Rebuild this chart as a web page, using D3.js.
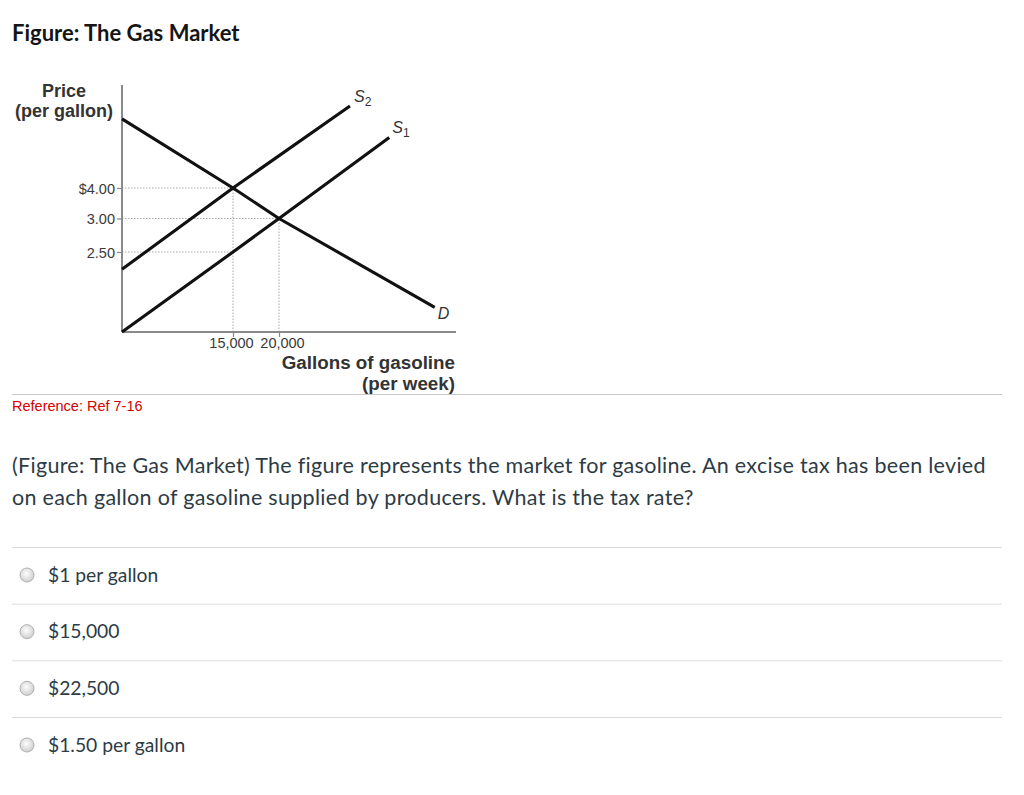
<!DOCTYPE html>
<meta charset="utf-8">
<style type="text/css">
    body{
      margin: 0;
      background: #fff;
    }
    svg{
      display: block;
    }
    .page-text{
      font-family: Lato, "Open Sans", sans-serif;
      fill: #2d3b45;
    }
    .chart-text{
      font-family: "Liberation Sans", Arial, sans-serif;
    }
</style>
<body>
<script src="https://cdnjs.cloudflare.com/ajax/libs/d3/7.8.5/d3.min.js"></script>
<script>

//curves of the schematic, quantity in gallons per week and price in dollars
var demand  = [{q: 0, p: 6.35}, {q: 15000, p: 4}, {q: 20000, p: 3}, {q: 37600, p: 0.77}];
var supply1 = [{q: 0, p: 0}, {q: 15000, p: 2.5}, {q: 20000, p: 3}, {q: 32460, p: 5.72}];
var supply2 = [{q: 0, p: 1.96}, {q: 15000, p: 4}, {q: 28020, p: 6.79}];

//dotted guides from the axes
var guides = [{q: 15000, p: 4}, {q: 20000, p: 3}, {q: 15000, p: 2.5}];

//tick values and labels
var priceTicks  = [2.5, 3, 4];
var priceLabels = ["2.50", "3.00", "$4.00"];
var qtyTicks    = [15000, 20000];
var qtyLabels   = ["15,000", "20,000"];

//page texts
var title     = "Figure: The Gas Market";
var reference = "Reference: Ref 7-16";
var question  = ["(Figure: The Gas Market) The figure represents the market for gasoline. An excise tax has been levied",
                 "on each gallon of gasoline supplied by producers. What is the tax rate?"];
var answers   = ["$1 per gallon", "$15,000", "$22,500", "$1.50 per gallon"];

var W = 1024, H = 795;

var svg = d3.select("body")
  .append("svg")
  .attr("width", W)
  .attr("height", H);

//radio gradient
var grad = svg.append("defs").append("radialGradient")
  .attr("id", "radio")
  .attr("cx", "45%").attr("cy", "40%").attr("r", "60%");
grad.append("stop").attr("offset", "0%").attr("stop-color", "#fdfdfd");
grad.append("stop").attr("offset", "100%").attr("stop-color", "#cfcfcf");

//title
svg.append("text")
  .attr("class", "page-text")
  .attr("x", 12).attr("y", 41)
  .style("font-size", "22px")
  .style("font-weight", "bold")
  .style("fill", "#151515")
  .text(title);

//the chart, schematic so the scales are piecewise
var chartW = 334, chartH = 247;
var chart = svg.append("g")
  .attr("transform", "translate(122,85)");

var x = d3.scaleLinear()
  .domain([0, 15000, 20000, 40000])
  .range([0, 111, 157, chartW]);

var y = d3.scaleLinear()
  .domain([0, 2.5, 3, 4, 7.5])
  .range([chartH, 167, 133.5, 103, 0]);

var line = d3.line()
  .x(function(d){ return x(d.q); })
  .y(function(d){ return y(d.p); });

//dotted guides
chart.selectAll(".hguide")
  .data(guides)
  .enter().append("line")
  .attr("x1", 0).attr("x2", function(d){ return x(d.q); })
  .attr("y1", function(d){ return y(d.p); }).attr("y2", function(d){ return y(d.p); })
  .attr("stroke", "#aaa").attr("stroke-width", 1).attr("stroke-dasharray", "1.5,1.5");

chart.selectAll(".vguide")
  .data(guides.slice(0, 2))
  .enter().append("line")
  .attr("x1", function(d){ return x(d.q); }).attr("x2", function(d){ return x(d.q); })
  .attr("y1", chartH).attr("y2", function(d){ return y(d.p); })
  .attr("stroke", "#aaa").attr("stroke-width", 1).attr("stroke-dasharray", "1.5,1.5");

//axes
var yAxis = d3.axisLeft(y)
  .tickValues(priceTicks)
  .tickFormat(function(d, i){ return priceLabels[i]; })
  .tickSize(5)
  .tickPadding(2);

var xAxis = d3.axisBottom(x)
  .tickValues(qtyTicks)
  .tickFormat(function(d, i){ return qtyLabels[i]; })
  .tickSize(5)
  .tickPadding(1);

var gy = chart.append("g").call(yAxis);
var gx = chart.append("g").attr("transform", "translate(0," + chartH + ")").call(xAxis);

[gx, gy].forEach(function(g){
  g.select(".domain").remove();
  g.selectAll(".tick line").attr("stroke", "#888").attr("stroke-width", 1.2);
  g.selectAll(".tick text")
    .attr("class", "chart-text")
    .style("font-size", "14.5px")
    .style("fill", "#3a3a3a");
});
gy.selectAll(".tick text").attr("dy", "0.36em");
gx.selectAll(".tick text").attr("dx", function(d, i){ return i === 0 ? -2 : 3; });

chart.append("line")
  .attr("x1", 0).attr("x2", 0).attr("y1", 0).attr("y2", chartH)
  .attr("stroke", "#8a8a8a").attr("stroke-width", 2);
chart.append("line")
  .attr("x1", 0).attr("x2", chartW).attr("y1", chartH).attr("y2", chartH)
  .attr("stroke", "#8a8a8a").attr("stroke-width", 2);

//curves
chart.selectAll(".curve")
  .data([demand, supply1, supply2])
  .enter().append("path")
  .attr("d", line)
  .attr("fill", "none")
  .attr("stroke", "#111")
  .attr("stroke-width", 3.1)
  .attr("stroke-linejoin", "round");

//curve labels
function curveLabel(d, name, sub, dx, dy){
  var end = d[d.length - 1];
  var t = chart.append("text")
    .attr("class", "chart-text")
    .attr("x", x(end.q) + dx)
    .attr("y", y(end.p) + dy)
    .style("font-size", "16px")
    .style("font-style", "italic")
    .style("fill", "#333")
    .text(name);
  if (sub) {
    t.append("tspan")
      .attr("dy", 4)
      .style("font-size", "12px")
      .style("font-style", "normal")
      .text(sub);
  }
}
curveLabel(supply2, "S", "2", 4, -4);
curveLabel(supply1, "S", "1", 3, -4);
curveLabel(demand, "D", null, 3, 12);

//axis titles
var yt = chart.append("text")
  .attr("class", "chart-text")
  .attr("text-anchor", "middle")
  .style("font-size", "18px")
  .style("font-weight", "bold")
  .style("fill", "#333");
yt.append("tspan").attr("x", -58).attr("y", 12).text("Price");
yt.append("tspan").attr("x", -58).attr("y", 32).text("(per gallon)");

var xt = chart.append("text")
  .attr("class", "chart-text")
  .attr("text-anchor", "end")
  .style("font-size", "18.8px")
  .style("font-weight", "bold")
  .style("fill", "#333");
xt.append("tspan").attr("x", chartW - 1).attr("y", chartH + 37).text("Gallons of gasoline");
xt.append("tspan").attr("x", chartW - 1).attr("y", chartH + 58).text("(per week)");

//rule under the figure
svg.append("line")
  .attr("x1", 12).attr("x2", 1002).attr("y1", 394.5).attr("y2", 394.5)
  .attr("stroke", "#c8c8c8").attr("stroke-width", 1);

svg.append("text")
  .attr("class", "chart-text")
  .attr("x", 12).attr("y", 411)
  .style("font-size", "14.5px")
  .style("fill", "#d40000")
  .text(reference);

//question
svg.append("g").selectAll("text")
  .data(question)
  .enter().append("text")
  .attr("class", "page-text")
  .attr("x", 12)
  .attr("y", function(d, i){ return 473 + i * 32; })
  .style("font-size", "21.5px")
  .style("letter-spacing", "0.3px")
  .text(function(d){ return d; });

//answer options
var rowY = d3.scaleLinear().domain([0, 3]).range([547, 717]);

var rows = svg.append("g").selectAll("g")
  .data(answers)
  .enter().append("g")
  .attr("transform", function(d, i){ return "translate(0," + rowY(i) + ")"; });

rows.append("line")
  .attr("x1", 12).attr("x2", 1002).attr("y1", 0.5).attr("y2", 0.5)
  .attr("stroke", "#dcdcdc").attr("stroke-width", 1);

rows.append("circle")
  .attr("cx", 27).attr("cy", 28).attr("r", 7)
  .attr("fill", "url(#radio)")
  .attr("stroke", "#b0b0b0").attr("stroke-width", 1);

rows.append("text")
  .attr("class", "page-text")
  .attr("x", 48).attr("y", 34.5)
  .style("font-size", "19.3px")
  .text(function(d){ return d; });

</script>
